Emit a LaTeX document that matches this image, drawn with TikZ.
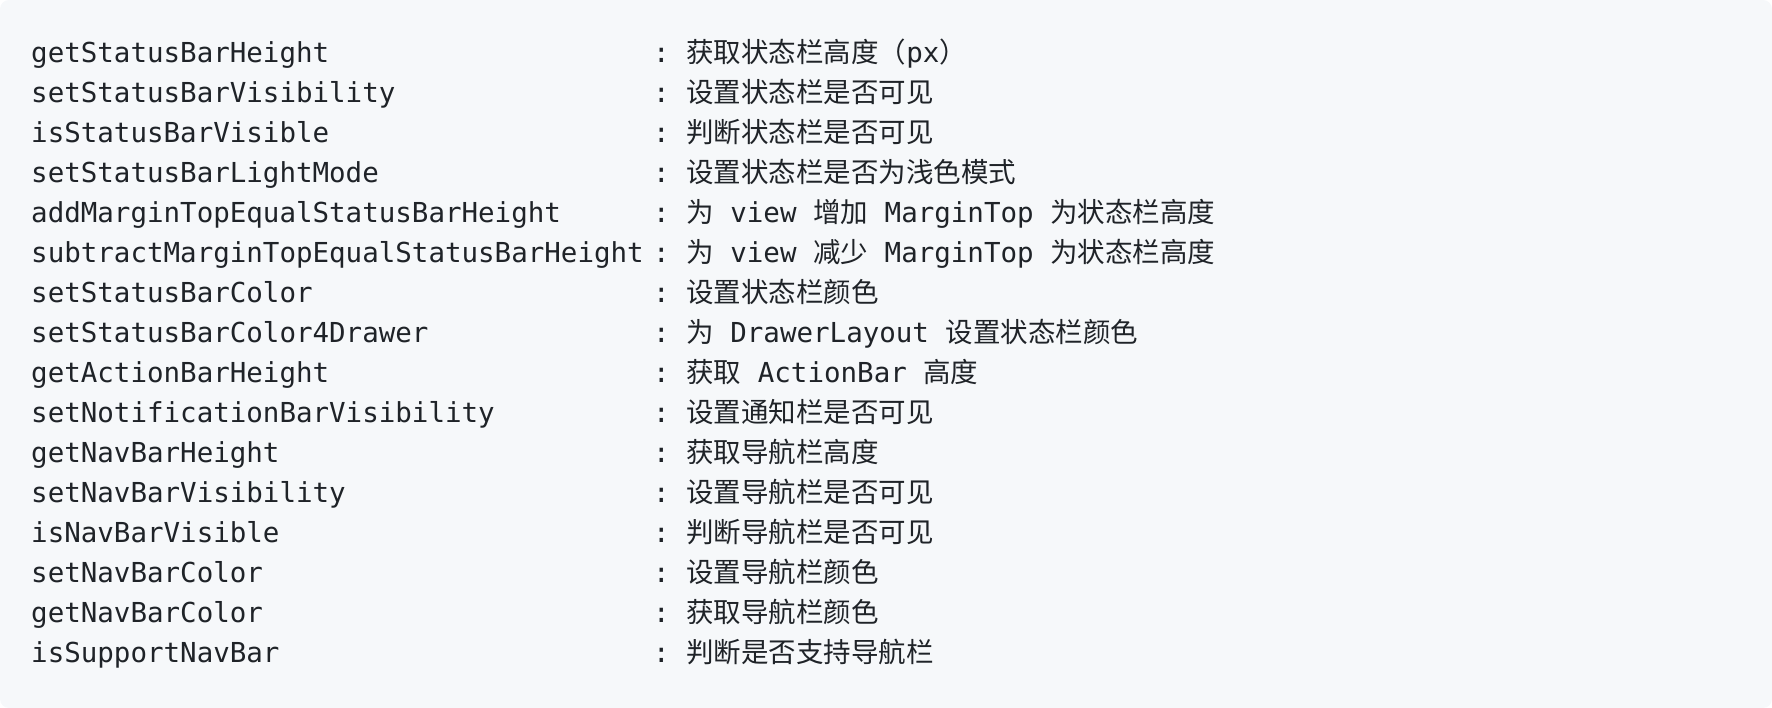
\documentclass[tikz,border=0pt]{standalone}
\usepackage{fontspec}
\setmonofont{DejaVu Sans Mono}
\newfontfamily\cjk{Noto Sans CJK SC}
\definecolor{bgc}{HTML}{F6F8FA}
\definecolor{txt}{HTML}{1F2328}
\begin{document}
\begin{tikzpicture}[x=1pt,y=1pt,
  lbl/.style={anchor=base west,inner sep=0pt,font=\ttfamily\fontsize{27.5}{30}\selectfont,text=txt}]
\useasboundingbox (0,0) rectangle (1772,708);
\fill[bgc,rounded corners=9pt] (0,0) rectangle (1772,708);
\foreach \i/\n/\d in {
0/getStatusBarHeight/{{\cjk 获取状态栏高度（}px{\cjk ）}},
1/setStatusBarVisibility/{{\cjk 设置状态栏是否可见}},
2/isStatusBarVisible/{{\cjk 判断状态栏是否可见}},
3/setStatusBarLightMode/{{\cjk 设置状态栏是否为浅色模式}},
4/addMarginTopEqualStatusBarHeight/{{\cjk 为} view {\cjk 增加} MarginTop {\cjk 为状态栏高度}},
5/subtractMarginTopEqualStatusBarHeight/{{\cjk 为} view {\cjk 减少} MarginTop {\cjk 为状态栏高度}},
6/setStatusBarColor/{{\cjk 设置状态栏颜色}},
7/setStatusBarColor4Drawer/{{\cjk 为} DrawerLayout {\cjk 设置状态栏颜色}},
8/getActionBarHeight/{{\cjk 获取} ActionBar {\cjk 高度}},
9/setNotificationBarVisibility/{{\cjk 设置通知栏是否可见}},
10/getNavBarHeight/{{\cjk 获取导航栏高度}},
11/setNavBarVisibility/{{\cjk 设置导航栏是否可见}},
12/isNavBarVisible/{{\cjk 判断导航栏是否可见}},
13/setNavBarColor/{{\cjk 设置导航栏颜色}},
14/getNavBarColor/{{\cjk 获取导航栏颜色}},
15/isSupportNavBar/{{\cjk 判断是否支持导航栏}}} {
  \node[lbl] (n\i) at (31,{645-40*\i}) {\n};
  \node[lbl] (d\i) at (653,{645-40*\i}) {:\ \d};
}
\end{tikzpicture}
\end{document}
